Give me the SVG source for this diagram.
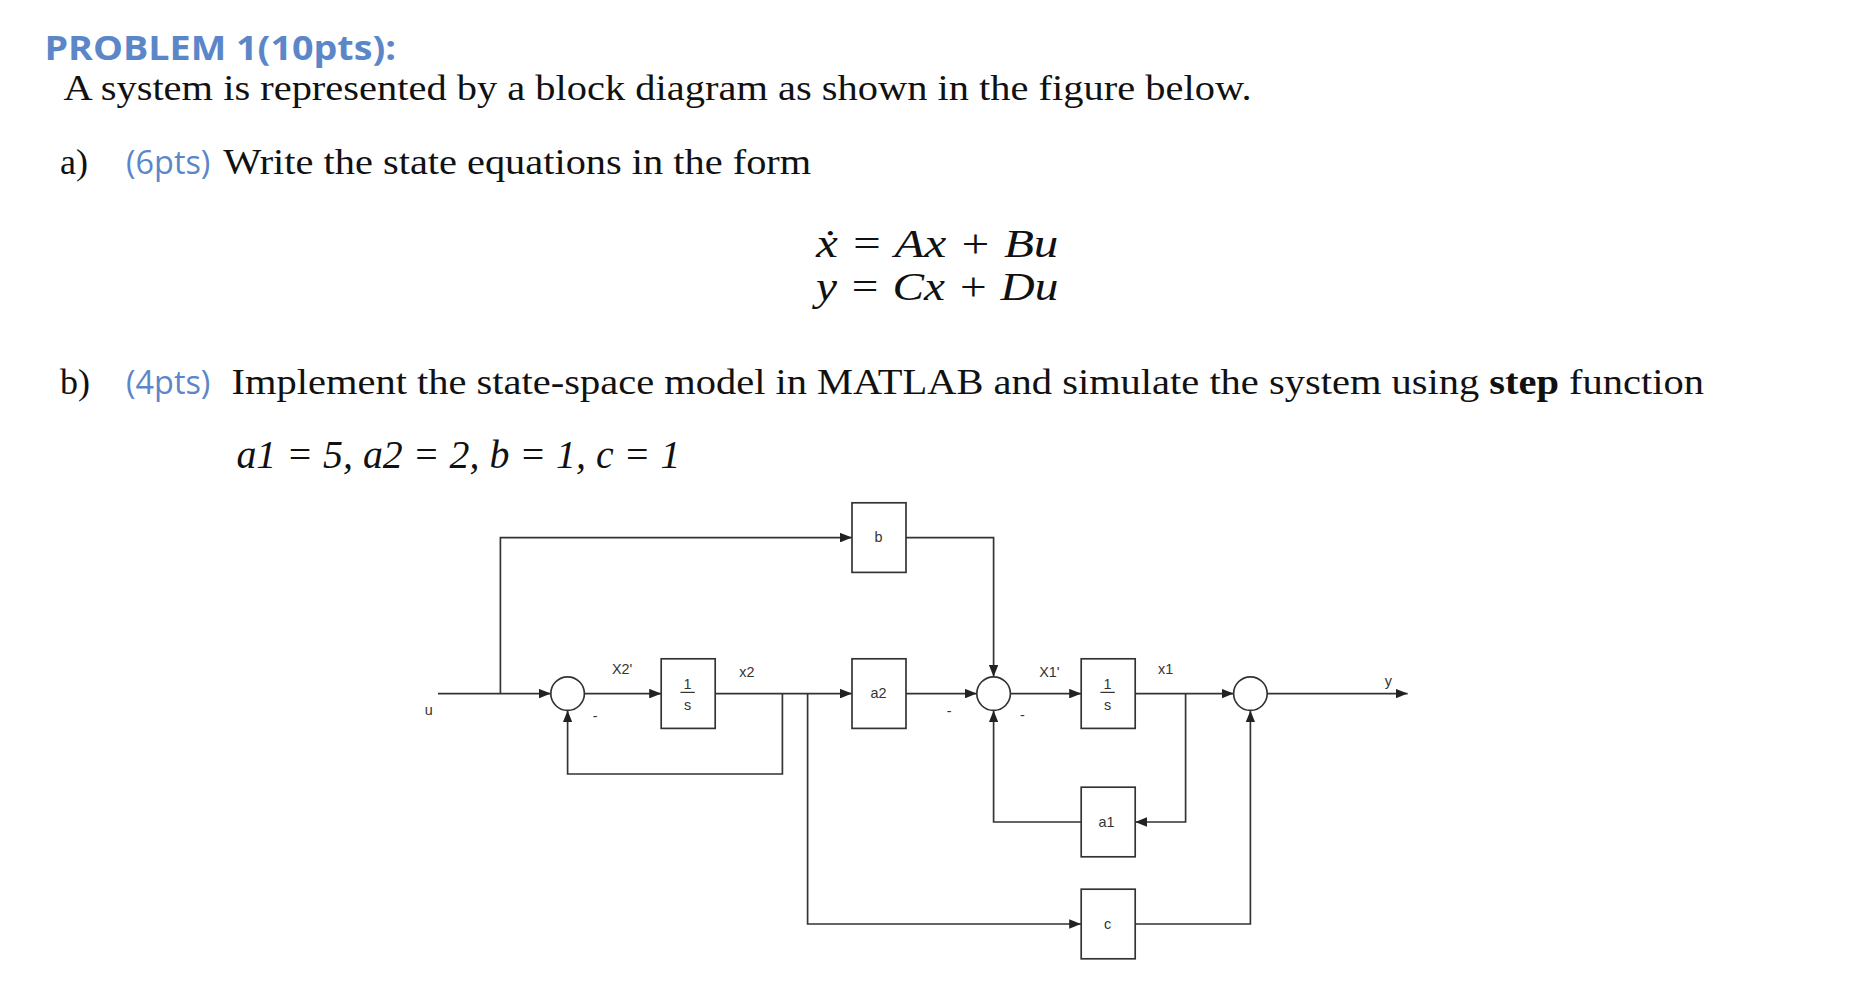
<svg xmlns="http://www.w3.org/2000/svg" width="1872" height="1008" viewBox="0 0 1872 1008">
<style>
.ser{font-family:"Liberation Serif",serif;font-size:30px;fill:#111}
.blue{font-family:"Open Sans","Liberation Sans",sans-serif;fill:#5b87c9}
.math{font-family:"Liberation Serif",serif;font-style:italic;font-size:33px;fill:#111}
.lbl{font-family:"Liberation Sans",Arial,sans-serif;font-size:12px;fill:#333}
.blk{fill:#fff;stroke:#333;stroke-width:1.4}
.ln{fill:none;stroke:#333;stroke-width:1.4}
</style>
<defs>
<marker id="ar" markerWidth="10" markerHeight="8" refX="10" refY="4" orient="auto" markerUnits="userSpaceOnUse">
<path d="M0,0 L10,4 L0,8 z" fill="#222"/>
</marker>
</defs>
<rect width="1872" height="1008" fill="#fff"/>
<g transform="scale(1.2)">
<g id="text">
<text class="blue" x="37" y="50" font-size="29" font-weight="bold" textLength="293" lengthAdjust="spacingAndGlyphs">PROBLEM 1(10pts):</text>
<text class="ser" x="53" y="83" textLength="990" lengthAdjust="spacingAndGlyphs">A system is represented by a block diagram as shown in the figure below.</text>
<text class="ser" x="50" y="145">a)</text>
<text class="blue" x="105" y="145" font-size="27">(6pts)</text>
<text class="ser" x="186" y="145" textLength="490" lengthAdjust="spacingAndGlyphs">Write the state equations in the form</text>
<text class="math" x="680" y="214" textLength="202" lengthAdjust="spacingAndGlyphs">ẋ = Ax + Bu</text>
<text class="math" x="680" y="250" textLength="202" lengthAdjust="spacingAndGlyphs">y = Cx + Du</text>
<text class="ser" x="50" y="328">b)</text>
<text class="blue" x="105" y="328" font-size="27">(4pts)</text>
<text class="ser" x="193" y="328" textLength="1227" lengthAdjust="spacingAndGlyphs">Implement the state-space model in MATLAB and simulate the system using <tspan font-weight="bold">step</tspan> function</text>
<text class="math" x="197" y="390" textLength="370" lengthAdjust="spacingAndGlyphs">a1 = 5,  a2 = 2, b = 1, c = 1</text>
</g>
<g id="connectors">
<path class="ln" d="M365,578 H459" marker-end="url(#ar)"/>
<path class="ln" d="M417,578 V448 H710" marker-end="url(#ar)"/>
<path class="ln" d="M755,448 H828 V564" marker-end="url(#ar)"/>
<path class="ln" d="M487,578 H551" marker-end="url(#ar)"/>
<path class="ln" d="M596,578 H710" marker-end="url(#ar)"/>
<path class="ln" d="M652,578 V645 H473 V592" marker-end="url(#ar)"/>
<path class="ln" d="M673,578 V770 H901" marker-end="url(#ar)"/>
<path class="ln" d="M755,578 H814" marker-end="url(#ar)"/>
<path class="ln" d="M842,578 H901" marker-end="url(#ar)"/>
<path class="ln" d="M946,578 H1028" marker-end="url(#ar)"/>
<path class="ln" d="M988,578 V685 H946" marker-end="url(#ar)"/>
<path class="ln" d="M901,685 H828 V592" marker-end="url(#ar)"/>
<path class="ln" d="M946,770 H1042 V592" marker-end="url(#ar)"/>
<path class="ln" d="M1056,578 H1173" marker-end="url(#ar)"/>
</g>
<g id="sum1"><circle class="blk" cx="473" cy="578" r="14"/><text class="lbl" x="494" y="601">-</text></g>
<g id="sum2"><circle class="blk" cx="828" cy="578" r="14"/><text class="lbl" x="789" y="597">-</text><text class="lbl" x="850" y="600">-</text></g>
<g id="sum3"><circle class="blk" cx="1042" cy="578" r="14"/></g>
<g id="b"><rect class="blk" x="710" y="419" width="45" height="58"/><text class="lbl" x="732" y="452" text-anchor="middle" font-size="11">b</text></g>
<g id="int1"><rect class="blk" x="551" y="549" width="45" height="58"/><text class="lbl" x="573" y="574" text-anchor="middle" font-size="11">1</text><line x1="567" y1="577" x2="579" y2="577" stroke="#333" stroke-width="1"/><text class="lbl" x="573" y="592" text-anchor="middle" font-size="11">s</text></g>
<g id="a2"><rect class="blk" x="710" y="549" width="45" height="58"/><text class="lbl" x="732" y="582" text-anchor="middle">a2</text></g>
<g id="int2"><rect class="blk" x="901" y="549" width="45" height="58"/><text class="lbl" x="923" y="574" text-anchor="middle" font-size="11">1</text><line x1="917" y1="577" x2="929" y2="577" stroke="#333" stroke-width="1"/><text class="lbl" x="923" y="592" text-anchor="middle" font-size="11">s</text></g>
<g id="a1"><rect class="blk" x="901" y="656" width="45" height="58"/><text class="lbl" x="922" y="689" text-anchor="middle">a1</text></g>
<g id="c"><rect class="blk" x="901" y="741" width="45" height="58"/><text class="lbl" x="923" y="774" text-anchor="middle" font-size="11">c</text></g>
<g id="labels">
<text class="lbl" x="354" y="596" font-size="11">u</text>
<text class="lbl" x="510" y="562">X2'</text>
<text class="lbl" x="616" y="564">x2</text>
<text class="lbl" x="866" y="564">X1'</text>
<text class="lbl" x="965" y="562">x1</text>
<text class="lbl" x="1154" y="572">y</text>
</g>
</g>
</svg>
